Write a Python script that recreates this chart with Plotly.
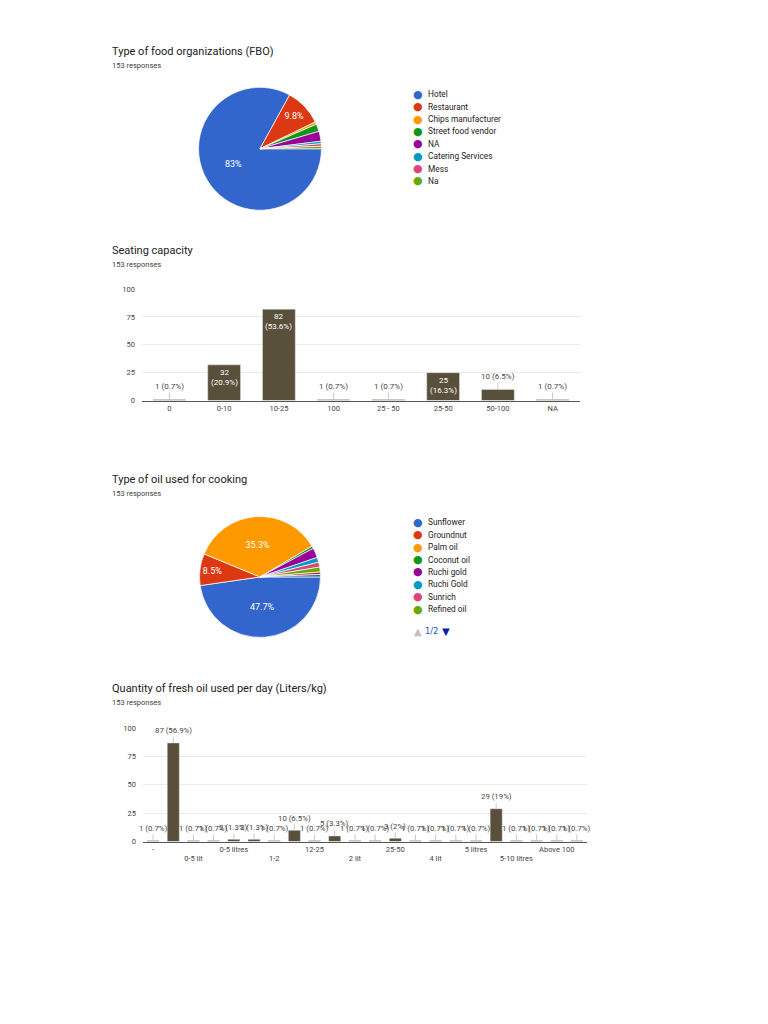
import plotly.graph_objects as go

# Type of food organizations (FBO)
fbo_labels = ["Hotel", "Restaurant", "Chips manufacturer", "Street food vendor",
              "NA", "Catering Services", "Mess", "Na"]
fbo_counts = [127, 15, 1, 3, 4, 1, 1, 1]

# Seating capacity
seat_cats = ["0", "0-10", "10-25", "100", "25 - 50", "25-50", "50-100", "NA"]
seat_counts = [1, 32, 82, 1, 1, 25, 10, 1]

# Type of oil used for cooking (legend shows page 1 of 2)
oil_labels = ["Sunflower", "Groundnut", "Palm oil", "Coconut oil", "Ruchi gold",
              "Ruchi Gold", "Sunrich", "Refined oil", "Gold winner", "Others"]
oil_counts = [73, 13, 54, 1, 4, 2, 2, 2, 1, 1]

# Quantity of fresh oil used per day (Liters/kg)
qty_cats = ["-", "0-5", "0-5 lit", "0-5 liters", "0-5 litres", "1", "1-2", "10",
            "12-25", "2", "2 lit", "2 litres", "25-50", "3", "4 lit", "4 litres",
            "5 litres", "5-10", "5-10 litres", "50-100", "Above 100", "NA"]
qty_counts = [1, 87, 1, 1, 2, 2, 1, 10, 1, 5, 1, 1, 3, 1, 1, 1, 1, 29, 1, 1, 1, 1]

palette = ["#3366cc", "#dc3912", "#ff9900", "#109618", "#990099", "#0099c6",
           "#dd4477", "#66aa00", "#b82e2e", "#316395"]
bar_color = "#58503a"
FONT = "Roboto, Arial, sans-serif"
# the page body has an 8px margin, so the figure is a bit smaller than the window
OFF = 8
W, H = 760, 1016


def pct(v, total):
    s = f"{100 * v / total:.1f}".rstrip("0").rstrip(".")
    return s + "%"


def px(x):
    return (x - OFF) / W


def py(y):
    return 1 - (y - OFF) / H


fig = go.Figure()

# ---- pies
for labels, counts, dom in [
    (fbo_labels, fbo_counts, dict(x=[px(198), px(322)], y=[py(208), py(84)])),
    (oil_labels, oil_counts, dict(x=[px(199), px(321)], y=[py(639), py(517)])),
]:
    tot = sum(counts)
    fig.add_trace(go.Pie(
        labels=labels, values=counts, sort=False, direction="clockwise",
        rotation=90, domain=dom,
        marker=dict(colors=palette[:len(labels)], line=dict(color="white", width=0.7)),
        text=[pct(v, tot) if v / tot > 0.05 else "" for v in counts],
        textinfo="text", textposition="inside", insidetextorientation="horizontal",
        textfont=dict(color="white", size=9, family=FONT),
        showlegend=False, hoverinfo="label+value+percent",
    ))

# ---- bars
fig.add_trace(go.Bar(x=seat_cats, y=seat_counts, marker_color=bar_color,
                     width=0.6, xaxis="x", yaxis="y", showlegend=False))
fig.add_trace(go.Bar(x=qty_cats, y=qty_counts, marker_color=bar_color,
                     width=0.6, xaxis="x2", yaxis="y2", showlegend=False))

ann = []

# titles
for title, ytop in [("Type of food organizations (FBO)", 48),
                    ("Seating capacity", 249),
                    ("Type of oil used for cooking", 480),
                    ("Quantity of fresh oil used per day (Liters/kg)", 691)]:
    ann.append(dict(text=title, x=px(110), y=py(ytop), xref="paper", yref="paper",
                    xanchor="left", yanchor="middle", showarrow=False,
                    font=dict(size=11, color="#202124", family=FONT)))
    ann.append(dict(text="153 responses", x=px(110), y=py(ytop + 14), xref="paper",
                    yref="paper", xanchor="left", yanchor="middle", showarrow=False,
                    font=dict(size=7.5, color="#3c4043", family=FONT)))

# legends (drawn as text)
for labels, y0 in [(fbo_labels, 91), (oil_labels[:8], 523)]:
    for i, lab in enumerate(labels):
        yy = py(y0 + 12.5 * i)
        ann.append(dict(text="●", x=px(418), y=yy, xref="paper", yref="paper",
                        xanchor="center", yanchor="middle", showarrow=False,
                        font=dict(size=11, color=palette[i], family="DejaVu Sans")))
        ann.append(dict(text=lab, x=px(426), y=yy, xref="paper", yref="paper",
                        xanchor="left", yanchor="middle", showarrow=False,
                        font=dict(size=8.3, color="#222222", family=FONT)))

# pager
for t, xx, col, sz in [("▲", 418, "#c0c0c0", 10), ("1/2", 432, "#1a56c8", 8.3),
                       ("▼", 446, "#0b1fb0", 10)]:
    ann.append(dict(text=t, x=px(xx), y=py(633), xref="paper", yref="paper",
                    xanchor="center", yanchor="middle", showarrow=False,
                    font=dict(size=sz, color=col, family="DejaVu Sans")))

# bar value labels (x given as category index, the category names look numeric)
seat_tot = sum(seat_counts)
for i, v in enumerate(seat_counts):
    if v >= 20:
        ann.append(dict(text=f"{v}<br>({pct(v, seat_tot)})", x=i, y=v, xref="x",
                        yref="y", yanchor="top", yshift=-1, showarrow=False,
                        font=dict(size=8, color="white", family=FONT)))
    else:
        ann.append(dict(text=f"{v} ({pct(v, seat_tot)})", x=i, y=v, xref="x",
                        yref="y", showarrow=True, arrowhead=0, arrowwidth=0.8,
                        arrowcolor="#bbbbbb", ax=0, ay=-13, standoff=0,
                        font=dict(size=8, color="#444444", family=FONT)))

qty_tot = sum(qty_counts)
for i, v in enumerate(qty_counts):
    ann.append(dict(text=f"{v} ({pct(v, qty_tot)})", x=i, y=v, xref="x2",
                    yref="y2", showarrow=True, arrowhead=0, arrowwidth=0.8,
                    arrowcolor="#bbbbbb", ax=0, ay=-12, standoff=0,
                    font=dict(size=7.8, color="#444444", family=FONT)))

qty_ticktext = [c if i % 4 == 0 else "<br>" + c
                for i, c in enumerate(qty_cats) if i % 2 == 0]

axis_common = dict(type="category", categoryorder="array", showgrid=False,
                   showline=True, linecolor="#555555", linewidth=1, ticks="",
                   tickangle=0, fixedrange=True,
                   tickfont=dict(size=7.5, color="#444444", family=FONT))
yaxis_common = dict(range=[0, 100.5], tickvals=[0, 25, 50, 75, 100], showgrid=True,
                    gridcolor="#ebebeb", zeroline=False, showline=False,
                    fixedrange=True, ticklabelstandoff=6,
                    tickfont=dict(size=7.5, color="#444444", family=FONT))

fig.update_layout(
    width=W, height=H,
    margin=dict(l=0, r=0, t=0, b=0),
    paper_bgcolor="white", plot_bgcolor="white",
    font=dict(family=FONT),
    bargap=0.4,
    xaxis=dict(domain=[px(142), px(580)], anchor="y", categoryarray=seat_cats,
               range=[-0.5, len(seat_cats) - 0.5], **axis_common),
    yaxis=dict(domain=[py(400), py(287)], anchor="x", **yaxis_common),
    xaxis2=dict(domain=[px(143), px(587)], anchor="y2", categoryarray=qty_cats,
                range=[-0.5, len(qty_cats) - 0.5], tickmode="array",
                tickvals=qty_cats[::2], ticktext=qty_ticktext, **axis_common),
    yaxis2=dict(domain=[py(845), py(730)], anchor="x2", **yaxis_common),
    annotations=ann,
)

fig.write_html("out.html")
